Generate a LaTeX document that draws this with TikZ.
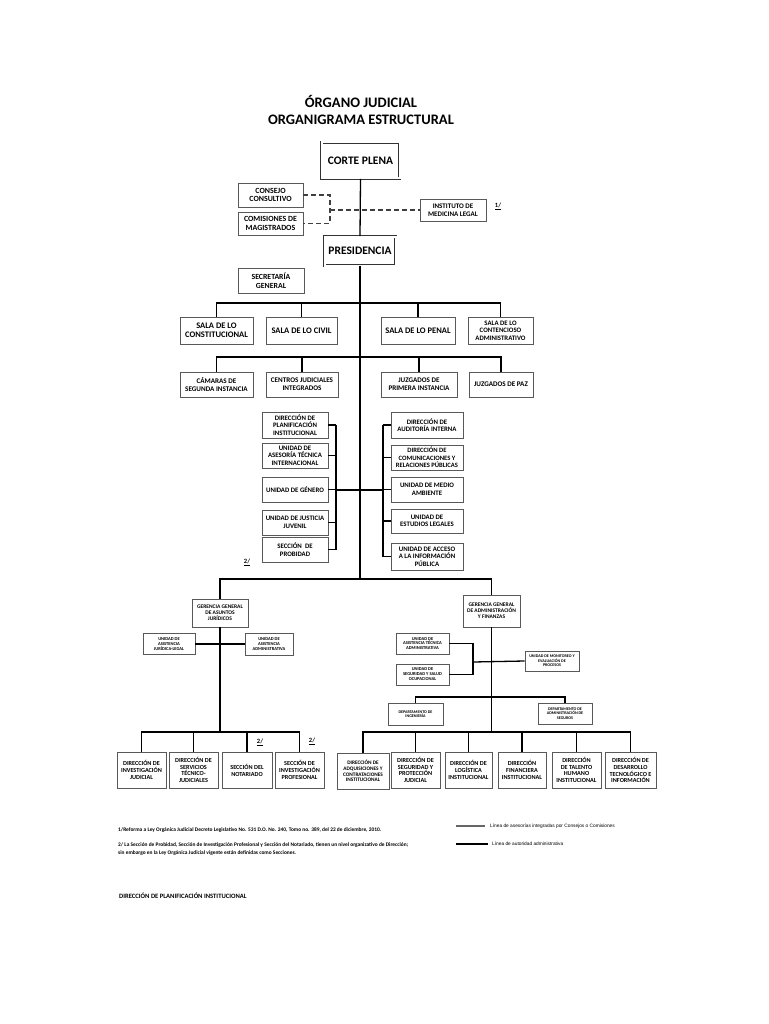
\documentclass[tikz,border=0pt]{standalone}
\usepackage{fontspec}
\setmainfont{Carlito}
\newfontfamily\legendfont{Liberation Sans}
\newcommand{\fsz}[1]{\bfseries\fontsize{#1}{\fpeval{1.1*#1}}\selectfont}
\tikzset{
  unit/.style={draw=black!65, line width=0.8pt, fill=white, align=center,
               inner sep=0.5pt, font=\fsz{6.8}},
  topunit/.style={unit, double, double distance=2pt, line width=0.7pt,
                  draw=black!80, font=\fsz{11.5}},
  sz/.style 2 args={minimum width=#1pt, minimum height=#2pt},
  link/.style={line width=1.3pt},
  advice/.style={line width=1.3pt, dash pattern=on 5pt off 3pt, draw=black!75},
  note/.style={anchor=west, inner sep=0pt, font=\bfseries\fontsize{5.4}{6.6}\selectfont},
  legend/.style={anchor=west, inner sep=0pt, font=\legendfont\fontsize{4.8}{5.6}\selectfont},
  footref/.style={inner sep=0pt, font=\bfseries\fontsize{6.5}{7}\selectfont},
}

\begin{document}
\begin{tikzpicture}[x=1pt, y=-1pt]
  \fill[white] (0,0) rectangle (768,1024);
  \useasboundingbox (0,0) rectangle (768,1024);

  % title
  \node[font=\bfseries\fontsize{14.5}{17}\selectfont, align=center] (title) at (361,110)
    {ÓRGANO JUDICIAL\\ORGANIGRAMA ESTRUCTURAL};

  % top level
  \node[topunit, sz={78}{36}] (cortePlena) at (360.5,160.5) {CORTE PLENA};
  \node[unit, sz={65}{24}, font=\fsz{7.9}] (consejo) at (270.5,195) {CONSEJO\\CONSULTIVO};
  \node[unit, sz={65}{23}, font=\fsz{7.9}] (comisiones) at (270.5,223.5) {COMISIONES DE\\MAGISTRADOS};
  \node[unit, sz={66}{22}, font=\fsz{7}] (instituto) at (453,210) {INSTITUTO DE\\MEDICINA LEGAL};
  \node[topunit, sz={71}{29}] (presidencia) at (360,251) {PRESIDENCIA};
  \node[unit, sz={66}{25}, font=\fsz{7.8}] (secretaria) at (271,280.5) {SECRETARÍA\\GENERAL};

  \node[footref] (ref1) at (498,206) {\underline{1/}};

  % salas
  \node[unit, sz={73}{27}, font=\fsz{8.5}] (salaConst) at (216.5,330.5) {SALA DE LO\\CONSTITUCIONAL};
  \node[unit, sz={71}{27}, font=\fsz{8.5}] (salaCivil) at (301.5,330.5) {SALA DE LO CIVIL};
  \node[unit, sz={74}{27}, font=\fsz{8.5}] (salaPenal) at (418,330.5) {SALA DE LO PENAL};
  \node[unit, sz={65}{27}, font=\fsz{6.8}] (salaCont) at (500.5,330.5) {SALA DE LO\\CONTENCIOSO\\ADMINISTRATIVO};

  % tribunales
  \node[unit, sz={73}{25}, font=\fsz{7.1}] (camaras) at (216.5,384.5) {CÁMARAS DE\\SEGUNDA INSTANCIA};
  \node[unit, sz={72}{25}, font=\fsz{7.1}] (centros) at (302,384.5) {CENTROS JUDICIALES\\INTEGRADOS};
  \node[unit, sz={76}{25}, font=\fsz{7.1}] (juzPrimera) at (419,384.5) {JUZGADOS DE\\PRIMERA INSTANCIA};
  \node[unit, sz={64}{25}, font=\fsz{7.1}] (juzPaz) at (501,384.5) {JUZGADOS DE PAZ};

  % unidades de apoyo, izquierda
  \node[unit, sz={66}{26}] (dirPlan) at (295,425) {DIRECCIÓN DE\\PLANIFICACIÓN\\INSTITUCIONAL};
  \node[unit, sz={66}{25}] (uAsesoria) at (295,455.5) {UNIDAD DE\\ASESORÍA TÉCNICA\\INTERNACIONAL};
  \node[unit, sz={66}{25}] (uGenero) at (295,489.5) {UNIDAD DE GÉNERO};
  \node[unit, sz={66}{25}] (uJusticia) at (295,522.5) {UNIDAD DE JUSTICIA\\JUVENIL};
  \node[unit, sz={66}{25}] (secProbidad) at (295,549.5) {SECCIÓN~~DE\\PROBIDAD};
  \node[footref] (ref2a) at (247,562) {\underline{2/}};

  % unidades de apoyo, derecha
  \node[unit, sz={72}{26}] (dirAuditoria) at (427,425) {DIRECCIÓN DE\\AUDITORÍA INTERNA};
  \node[unit, sz={72}{25}, font=\fsz{6.6}] (dirComunic) at (427,457.5) {DIRECCIÓN DE\\COMUNICACIONES Y\\RELACIONES PÚBLICAS};
  \node[unit, sz={72}{25}] (uMedio) at (427,489.5) {UNIDAD DE MEDIO\\AMBIENTE};
  \node[unit, sz={72}{24}] (uEstudios) at (427,521) {UNIDAD DE\\ESTUDIOS LEGALES};
  \node[unit, sz={72}{27}] (uAcceso) at (427,556.5) {UNIDAD DE ACCESO\\A LA INFORMACIÓN\\PÚBLICA};

  % gerencia de asuntos juridicos
  \node[unit, sz={56}{28}, font=\fsz{5.5}] (gerJur) at (220,613) {GERENCIA GENERAL\\DE ASUNTOS\\JURÍDICOS};
  \node[unit, sz={52}{21}, font=\fsz{4.5}] (uAsisJur) at (169,644) {UNIDAD DE\\ASISTENCIA\\JURÍDICA-LEGAL};
  \node[unit, sz={48}{22}, font=\fsz{4.5}] (uAsisAdm) at (269,644) {UNIDAD DE\\ASISTENCIA\\ADMINISTRATIVA};

  % gerencia de administracion y finanzas
  \node[unit, sz={57}{32}, font=\fsz{5.5}] (gerAdm) at (491.5,611) {GERENCIA GENERAL\\DE ADMINISTRACIÓN\\Y FINANZAS};
  \node[unit, sz={53}{21}, font=\fsz{4.5}] (uAsisTec) at (422.5,643.5) {UNIDAD DE\\ASISTENCIA TÉCNICA\\ADMINISTRATIVA};
  \node[unit, sz={53}{21}, font=\fsz{4.5}] (uSegSalud) at (422.5,674.5) {UNIDAD DE\\SEGURIDAD Y SALUD\\OCUPACIONAL};
  \node[unit, sz={54}{20}, font=\fsz{4.1}] (uMonitoreo) at (552,661) {UNIDAD DE MONITOREO Y\\EVALUACIÓN DE\\PROCESOS};
  \node[unit, sz={55}{22}, font=\fsz{4.1}] (depIng) at (415.5,714) {DEPARTAMENTO DE\\INGENIERÍA};
  \node[unit, sz={54}{21}, font=\fsz{4.1}] (depSeguros) at (565,713.5) {DEPARTAMENTO DE\\ADMINISTRACIÓN DE\\SEGUROS};

  % direcciones y secciones
  \node[unit, sz={49}{36}, font=\fsz{6.2}] (dirInvJud) at (141.5,770) {DIRECCIÓN DE\\INVESTIGACIÓN\\JUDICIAL};
  \node[unit, sz={49}{36}, font=\fsz{6.2}] (dirServ) at (193.5,770) {DIRECCIÓN DE\\SERVICIOS\\TÉCNICO-\\JUDICIALES};
  \node[unit, sz={50}{36}, font=\fsz{6.2}] (secNotariado) at (247,770) {SECCIÓN DEL\\NOTARIADO};
  \node[unit, sz={49}{36}, font=\fsz{6.2}] (secInvProf) at (299.5,770) {SECCIÓN DE\\INVESTIGACIÓN\\PROFESIONAL};
  \node[footref] (ref2b) at (260,742) {\underline{2/}};
  \node[footref] (ref2c) at (312,741) {\underline{2/}};
  \node[unit, sz={52}{36}, font=\fsz{5.3}] (dirAdq) at (363,771) {DIRECCIÓN DE\\ADQUISICIONES Y\\CONTRATACIONES\\INSTITUCIONAL};
  \node[unit, sz={49}{36}, font=\fsz{6.2}] (dirSegProt) at (415.5,770) {DIRECCIÓN DE\\SEGURIDAD Y\\PROTECCIÓN\\JUDICIAL};
  \node[unit, sz={47}{36}, font=\fsz{6.2}] (dirLog) at (468.5,770) {DIRECCIÓN DE\\LOGÍSTICA\\INSTITUCIONAL};
  \node[unit, sz={48}{36}, font=\fsz{6.2}] (dirFin) at (522,770) {DIRECCIÓN\\FINANCIERA\\INSTITUCIONAL};
  \node[unit, sz={49}{36}, font=\fsz{6.2}] (dirTalento) at (576.5,770) {DIRECCIÓN\\DE TALENTO\\HUMANO\\INSTITUCIONAL};
  \node[unit, sz={51}{36}, font=\fsz{6.2}] (dirDesarrollo) at (630.5,770) {DIRECCIÓN DE\\DESARROLLO\\TECNOLÓGICO E\\INFORMACIÓN};

  % junctions
  \coordinate (dashJ) at (330,210);
  \coordinate (busSalas) at (360,303);
  \coordinate (busTrib) at (360,357);
  \coordinate (brL) at (336,490);
  \coordinate (brR) at (383,490);
  \coordinate (busGer) at (360,579);
  \coordinate (busJur) at (220,732);
  \coordinate (brA) at (473,662);
  \coordinate (busDep) at (491.5,697);
  \coordinate (busAdm) at (491.5,732);

  % lineas de asesoria
  \draw[advice] (consejo.east) -| (dashJ) |- (comisiones.east);
  \draw[advice] (dashJ) -- (instituto.west);

  % lineas de autoridad
  \draw[link] (cortePlena.south) -- (presidencia.north);
  \draw[link] (presidencia.south) -- (busGer);
  \draw[link] (salaConst.north) |- (busSalas) -| (salaCont.north);
  \draw[link] (salaCivil.north) -- (salaCivil.north |- busSalas);
  \draw[link] (salaPenal.north) -- (salaPenal.north |- busSalas);
  \draw[link] (camaras.north) |- (busTrib) -| (juzPaz.north);
  \draw[link] (centros.north) -- (centros.north |- busTrib);
  \draw[link] (juzPrimera.north) -- (juzPrimera.north |- busTrib);

  \foreach \u in {dirPlan,uAsesoria,uGenero,uJusticia,secProbidad}
    \draw[link] (\u.east) -- (\u.east -| brL);
  \draw[link] (dirPlan.east -| brL) -- (secProbidad.east -| brL);
  \foreach \u in {dirAuditoria,dirComunic,uMedio,uEstudios,uAcceso}
    \draw[link] (\u.west) -- (\u.west -| brR);
  \draw[link] (dirAuditoria.west -| brR) -- (uAcceso.west -| brR);
  \draw[link] (brL) -- (brR);

  \draw[link] (gerJur.north) |- (busGer) -| (gerAdm.north);

  \draw[link] (gerJur.south) -- (busJur);
  \draw[link] (uAsisJur.east) -- (uAsisAdm.west);
  \draw[link] (dirInvJud.north) |- (busJur) -| (secInvProf.north);
  \draw[link] (dirServ.north) -- (dirServ.north |- busJur);
  \draw[link] (secNotariado.north) -- (secNotariado.north |- busJur);

  \draw[link] (gerAdm.south) -- (busAdm);
  \draw[link] (uAsisTec.east) -| (brA) |- (uSegSalud.east);
  \draw[link] (brA) -- (uMonitoreo.west);
  \draw[link] (depIng.north) |- (busDep) -| (depSeguros.north);
  \draw[link] (dirAdq.north) |- (busAdm) -| (dirDesarrollo.north);
  \foreach \u in {dirSegProt,dirLog,dirFin,dirTalento}
    \draw[link] (\u.north) -- (\u.north |- busAdm);

  % notas
  \node[note] (nota1) at (118,830) {1/Reforma a Ley Orgánica Judicial Decreto Legislativo No. 531 D.O. No. 240, Tomo no. 389, del 22 de diciembre, 2010.};
  \node[note] (nota2) at (118,845) {2/ La Sección de Probidad, Sección de Investigación Profesional y Sección del Notariado, tienen un nivel organizativo de Dirección;};
  \node[note] (nota3) at (118,853) {sin embargo en la Ley Orgánica Judicial vigente están definidas como Secciones.};
  \node[note, font=\bfseries\fontsize{6.6}{7}\selectfont] (firma) at (119,896) {DIRECCIÓN DE PLANIFICACIÓN INSTITUCIONAL};

  % leyenda
  \coordinate (leyA1) at (456,826);
  \coordinate (leyA2) at (485,826);
  \coordinate (leyB1) at (456,844);
  \coordinate (leyB2) at (488,844);
  \node[legend] (leyA) at (490,826) {Línea de asesorías integradas por Consejos o Comisiones};
  \node[legend] (leyB) at (492,844) {Línea de autoridad administrativa};
  \draw[line width=1.3pt, black!60] (leyA1) -- (leyA2);
  \draw[line width=1.9pt] (leyB1) -- (leyB2);
\end{tikzpicture}
\end{document}
